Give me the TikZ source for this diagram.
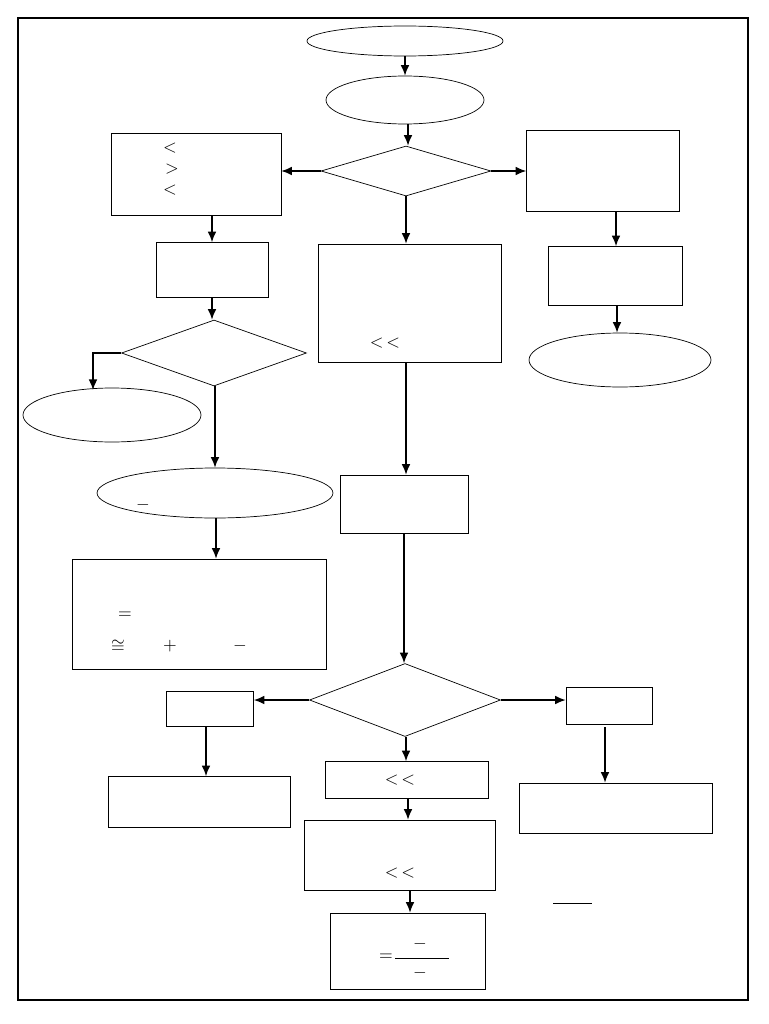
\documentclass[tikz,border=0pt]{standalone}
\usepackage{amssymb}
\usetikzlibrary{shapes.geometric,arrows.meta}
\begin{document}
\begin{tikzpicture}[x=0.02cm,y=-0.02cm]

    % Set the canvas size
    \useasboundingbox (0,0) rectangle (768,1024);

    % Define styles
    \tikzset{
        box/.style={draw, thin, inner sep=0pt},
        oval/.style={draw, thin, ellipse, inner sep=0pt},
        choice/.style={draw, thin, diamond, aspect=2, inner sep=0pt},
        flow/.style={-{Latex[length=6pt,width=5pt]}, thick},
    }

    % Frame
    \draw[line width=1.6pt] (18,18) rectangle (748,1000);

    % Top of the chart
    \node[oval, minimum width=3.92cm, minimum height=0.6cm] (start) at (405,41) {};
    \node[oval, minimum width=3.16cm, minimum height=0.96cm] (input) at (405,100) {};
    \node[choice, minimum width=3.4cm, minimum height=1cm] (test) at (406,171) {};

    % Left branch
    \node[box, minimum width=3.4cm, minimum height=1.64cm] (left) at (196,174) {};
    \node at (170,148) {$<$};
    \node at (172,169) {$>$};
    \node at (170,190) {$<$};
    \node[box, minimum width=2.24cm, minimum height=1.1cm] (leftb) at (212,270) {};
    \node[choice, minimum width=3.7cm, minimum height=1.32cm] (leftq) at (214,353) {};
    \node[oval, minimum width=3.56cm, minimum height=1.08cm] (leftno) at (112,415) {};
    \node[oval, minimum width=4.72cm, minimum height=1cm] (leftyes) at (215,493) {};
    \node at (143,505) {$-$};
    \node[box, minimum width=5.08cm, minimum height=2.2cm] (formula) at (199,614) {};
    \node at (125,615) {$=$};
    \node at (118,646) {$\cong$};
    \node at (170,646) {$+$};
    \node at (240,646) {$-$};

    % Right branch
    \node[box, minimum width=3.06cm, minimum height=1.62cm] (right) at (603,171) {};
    \node[box, minimum width=2.68cm, minimum height=1.18cm] (rightb) at (615,276) {};
    \node[oval, minimum width=3.64cm, minimum height=1.08cm] (rightend) at (620,360) {};

    % Middle branch
    \node[box, minimum width=3.66cm, minimum height=2.36cm] (mid) at (410,303) {};
    \node at (385,343) {$<\,<$};
    \node[box, minimum width=2.56cm, minimum height=1.16cm] (midb) at (404,504) {};
    \node[choice, minimum width=3.82cm, minimum height=1.46cm] (split) at (405,700) {};
    \node[box, minimum width=1.74cm, minimum height=0.7cm] (sl) at (210,709) {};
    \node[box, minimum width=1.72cm, minimum height=0.74cm] (sr) at (609,706) {};
    \node[box, minimum width=3.64cm, minimum height=1.02cm] (slb) at (199,802) {};
    \node[box, minimum width=3.86cm, minimum height=1cm] (srb) at (616,808) {};
    \node[box, minimum width=3.26cm, minimum height=0.74cm] (sm) at (407,780) {};
    \node at (400,780) {$<\,<$};
    \node[box, minimum width=3.82cm, minimum height=1.4cm] (smb) at (400,855) {};
    \node at (400,873) {$<\,<$};
    \node[box, minimum width=3.1cm, minimum height=1.52cm] (result) at (408,951) {};
    \node at (386,957) {$=$};
    \draw (395,958) -- (449,958);
    \node at (420,944) {$-$};
    \node at (420,973) {$-$};
    \draw (553,903) -- (592,903);

    % Connectors
    \draw[flow] (start) -- (input);
    \draw[flow] (input.south -| 408,0) -- (test.north -| 408,0);
    \draw[flow] (test.west) -- (left.east |- test.west);
    \draw[flow] (test.east) -- (right.west |- test.east);
    \draw[flow] (test.south) -- (mid.north -| test.south);
    \draw[flow] (left.south -| leftb) -- (leftb.north);
    \draw[flow] (leftb.south) -- (leftb.south |- leftq.north);
    \draw[flow] (leftq.west) -- (93,353) -- (93,390);
    \draw[flow] (leftq.south -| 215,0) -- (leftyes.north);
    \draw[flow] (leftyes.south -| 216,0) -- (formula.north -| 216,0);
    \draw[flow] (right.south -| 616,0) -- (rightb.north -| 616,0);
    \draw[flow] (rightb.south -| 617,0) -- (rightend.north -| 617,0);
    \draw[flow] (mid.south -| 406,0) -- (midb.north -| 406,0);
    \draw[flow] (midb.south) -- (split.north -| midb.south);
    \draw[flow] (split.west) -- (sl.east |- split.west);
    \draw[flow] (split.east) -- (sr.west |- split.east);
    \draw[flow] (split.south -| 406,0) -- (sm.north -| 406,0);
    \draw[flow] (sl.south -| 206,0) -- (slb.north -| 206,0);
    \draw[flow] (605,727) -- (srb.north -| 605,0);
    \draw[flow] (sm.south -| 408,0) -- (smb.north -| 408,0);
    \draw[flow] (smb.south -| 410,0) -- (result.north -| 410,0);

\end{tikzpicture}
\end{document}
